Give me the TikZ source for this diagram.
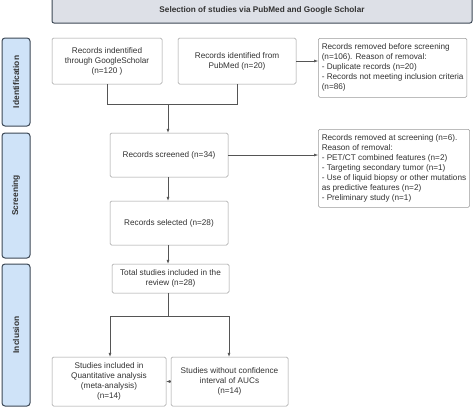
\documentclass[tikz,border=0pt]{standalone}
\usepackage{fontspec}
\setmainfont{Liberation Sans}
\usetikzlibrary{arrows.meta}
\definecolor{sidefill}{HTML}{CFE3F8}
\definecolor{sidedraw}{HTML}{3C4855}
\definecolor{titlefill}{HTML}{DDE0E7}
\definecolor{boxdraw}{HTML}{9A9A9A}
\definecolor{linecol}{HTML}{555555}
\definecolor{txt}{HTML}{333333}
\begin{document}
\begin{tikzpicture}[x=1pt,y=-1pt,
  sidebox/.style={draw=sidedraw,line width=1pt,fill=sidefill,rounded corners=3pt,inner sep=0pt},
  sidetext/.style={font=\fontsize{8.4}{9}\selectfont\bfseries,text=txt,rotate=90},
  flowbox/.style={draw=boxdraw,line width=0.5pt,fill=white,rounded corners=1.5pt,inner sep=2pt,align=center,font=\fontsize{8.2}{10}\selectfont,text=txt},
  notebox/.style={draw=boxdraw,line width=0.5pt,fill=white,rounded corners=1.5pt,inner sep=3pt,inner xsep=3.5pt,align=left,font=\fontsize{8.2}{10}\selectfont,text=txt,anchor=north west},
  conn/.style={draw=linecol,line width=0.5pt},
  arr/.style={conn,-{Latex[length=4pt,width=3pt]}}]
\useasboundingbox (0,0) rectangle (474,407);
\clip (0,0) rectangle (474,407);
% title
\node[draw=sidedraw,line width=1pt,fill=titlefill,rounded corners=2pt,minimum width=420pt,minimum height=26pt,font=\fontsize{8.2}{9}\selectfont\bfseries,text=txt] (title) at (262,10) {Selection of studies via PubMed and Google Scholar};
% side labels
\node[sidebox,minimum width=28pt,minimum height=88pt] (sid) at (16,82) {};
\node[sidetext] (sidt) at (sid.center) {Identification};
\node[sidebox,minimum width=28pt,minimum height=125pt] (sscr) at (16,195.5) {};
\node[sidetext] (sscrt) at (sscr.center) {Screening};
\node[sidebox,minimum width=28pt,minimum height=142pt] (sinc) at (16,335) {};
\node[sidetext] (sinct) at (sinc.center) {Inclusion};
% identification
\node[flowbox,minimum width=110pt,minimum height=46pt] (gs) at (107,61) {Records indentified\\through GoogleScholar\\(n=120 )};
\node[flowbox,minimum width=118pt,minimum height=46pt] (pm) at (237,61) {Records identified from\\PubMed (n=20)};
\node[notebox,minimum width=148pt,minimum height=59pt] (rm1) at (318,38) {Records removed before screening\\(n=106). Reason of removal:\\- Duplicate records (n=20)\\- Records not meeting inclusion criteria\\(n=86)};
% screening
\node[flowbox,minimum width=118pt,minimum height=44pt] (scr) at (169,155) {Records screened (n=34)};
\node[notebox,minimum width=149pt,minimum height=78pt] (rm2) at (318,129) {Records removed at screening (n=6).\\Reason of removal:\\- PET/CT combined features (n=2)\\- Targeting secondary tumor (n=1)\\- Use of liquid biopsy or other mutations\\as predictive features (n=2)\\- Preliminary study (n=1)};
\node[flowbox,minimum width=118pt,minimum height=44pt] (sel) at (169,223) {Records selected (n=28)};
% inclusion
\node[flowbox,minimum width=117pt,minimum height=29pt] (tot) at (170.5,278.5) {Total studies included in the\\review (n=28)};
\node[flowbox,minimum width=114pt,minimum height=49pt] (qa) at (109,381.5) {Studies included in\\Quantitative analysis\\(meta-analysis)\\(n=14)};
\node[flowbox,minimum width=117pt,minimum height=49pt] (noci) at (229.5,381.5) {Studies without confidence\\interval of AUCs\\(n=14)};
% connectors
\coordinate (j1) at (107,104);
\coordinate (j2) at (237,104);
\coordinate (j3) at (168,104);
\draw[conn] (gs.south) -- (j1) -- (j2) -- (pm.south);
\draw[arr] (j3) -- (j3 |- scr.north);
\draw[arr] (pm.east) -- (pm.east -| rm1.west);
\draw[arr] (scr.east) -- (scr.east -| rm2.west);
\draw[arr] (scr.south -| j3) -- (sel.north -| j3);
\draw[arr] (sel.south -| j3) -- (tot.north -| j3);
\coordinate (b0) at (168,316);
\coordinate (b1) at (110,316);
\coordinate (b2) at (229,316);
\draw[conn] (tot.south -| b0) -- (b0);
\draw[arr] (b0) -- (b1) -- (b1 |- qa.north);
\draw[arr] (b0) -- (b2) -- (b2 |- noci.north);
\draw[arr] (noci.west) -- (qa.east);
\end{tikzpicture}
\end{document}
